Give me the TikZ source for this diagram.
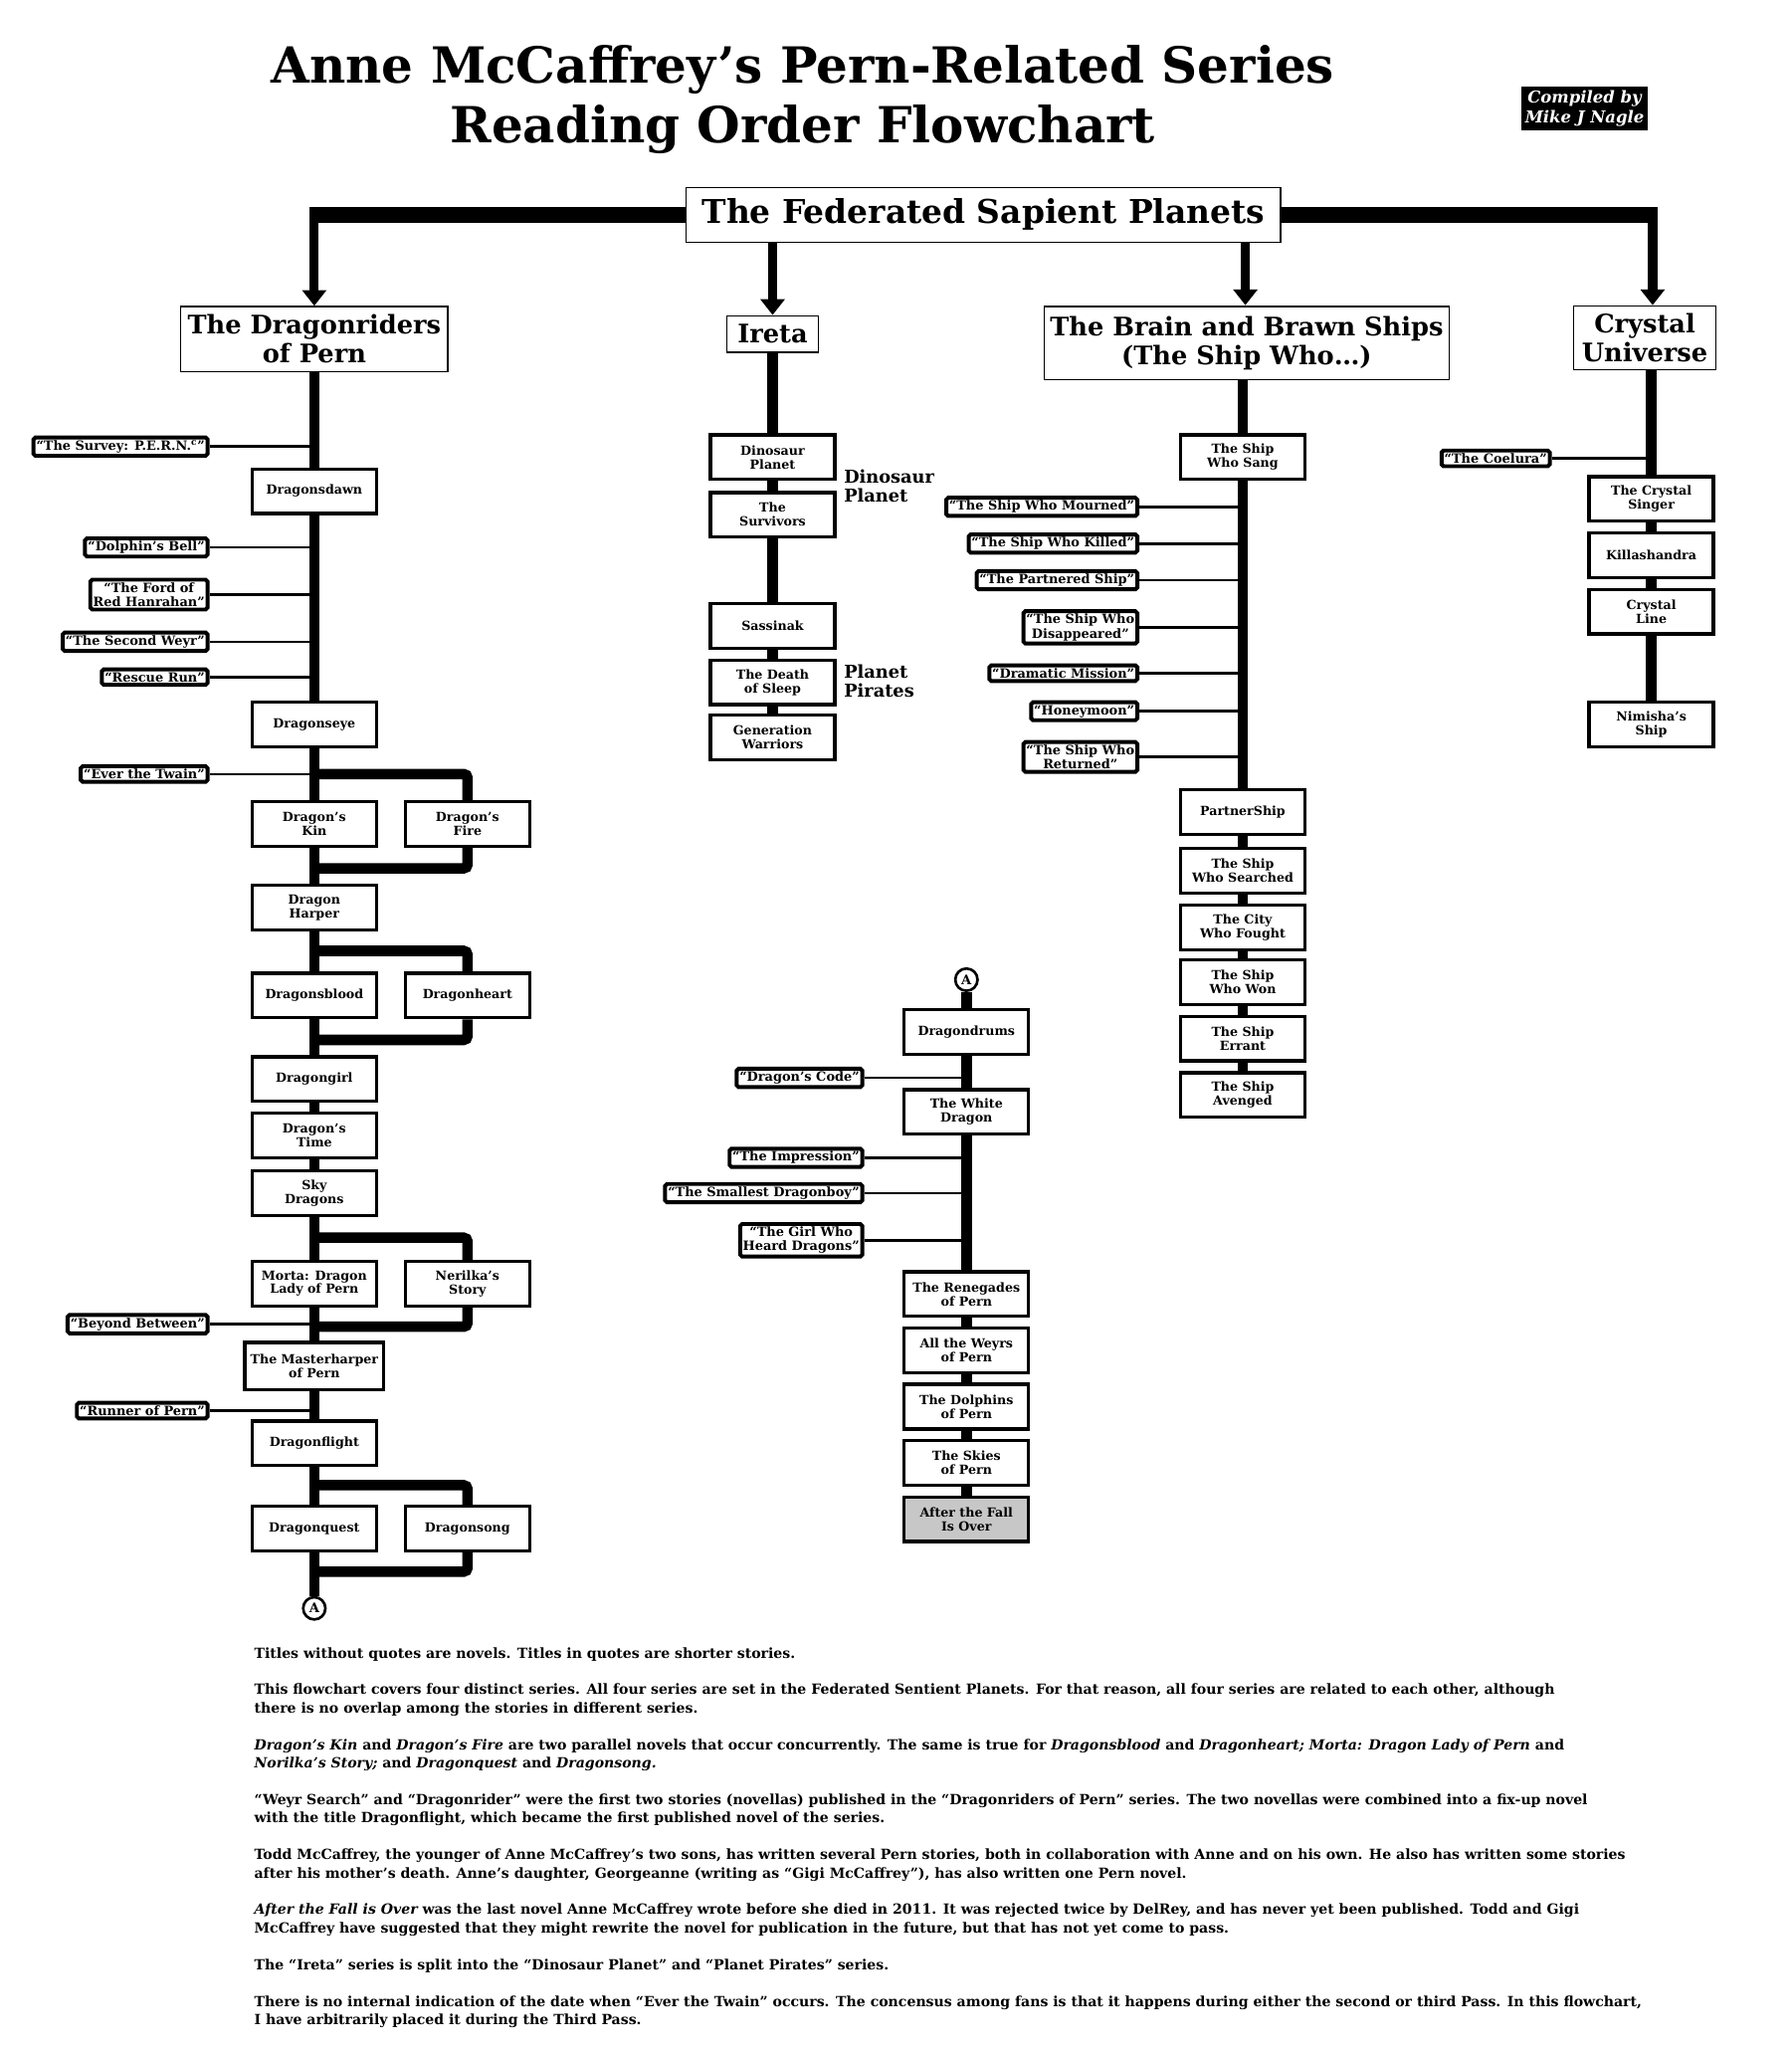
\documentclass[tikz,border=0pt]{standalone}
\usepackage{fontspec}
\setmainfont{DejaVu Serif}
\usetikzlibrary{arrows.meta,backgrounds}
\tikzset{
 book/.style={draw,line width=2.5pt,fill=white,minimum width=95pt,minimum height=34pt,inner sep=1pt,align=center,font=\fontsize{9.6}{10.6}\selectfont\bfseries},
 story/.style={draw,line width=3pt,fill=white,rounded corners=1.5pt,inner sep=2.2pt,align=center,font=\fontsize{9.8}{10.8}\selectfont\bfseries},
 head/.style={draw,line width=1pt,fill=white,align=center,inner sep=2pt,font=\fontsize{19.5}{22}\selectfont\bfseries},
 spine/.style={line width=8pt},
 thinl/.style={line width=2pt},
 arr/.style={line width=7pt,-{Triangle[width=18pt,length=12pt]}},
 para/.style={anchor=west,inner sep=0pt,font=\fontsize{10.7}{11}\selectfont\bfseries},
 lab/.style={anchor=west,align=left,font=\fontsize{13.5}{15}\selectfont\bfseries},
 circ/.style={circle,draw,line width=2pt,fill=white,inner sep=0pt,minimum size=17pt,font=\fontsize{10}{10}\selectfont\bfseries}
}
\begin{document}
\begin{tikzpicture}[x=1pt,y=-1pt]
\useasboundingbox (0,0) rectangle (1368,1566);
% titles
\node[font=\fontsize{38}{45}\selectfont\bfseries,align=center] (title) at (613,76) {Anne McCaffrey’s Pern-Related Series\\Reading Order Flowchart};
\node[fill=black,text=white,align=center,inner sep=3pt,font=\fontsize{12.5}{15}\selectfont\bfseries\itshape] (comp) at (1210,83) {Compiled by\\Mike J Nagle};
\node[head,font=\fontsize{25}{27}\selectfont\bfseries,minimum width=454pt,minimum height=42pt] (fsp) at (751,164) {The Federated Sapient Planets};
\node[head,minimum width=204pt,minimum height=50pt] (dr) at (240,259) {The Dragonriders\\of Pern};
\node[head,minimum width=70pt,minimum height=28pt] (ir) at (590,255) {Ireta};
\node[head,minimum width=309pt,minimum height=56pt] (bb) at (952,262) {The Brain and Brawn Ships\\(The Ship Who…)};
\node[head,minimum width=109pt,minimum height=49pt] (cu) at (1256,258) {Crystal\\Universe};

% Dragonriders column 1
\node[book] (ddawn) at (240,375) {Dragonsdawn};
\node[book] (deye) at (240,553) {Dragonseye};
\node[book] (dkin) at (240,629) {Dragon’s\\Kin};
\node[book] (dfire) at (357,629) {Dragon’s\\Fire};
\node[book] (dharp) at (240,693) {Dragon\\Harper};
\node[book] (dblood) at (240,760) {Dragonsblood};
\node[book] (dheart) at (357,760) {Dragonheart};
\node[book] (dgirl) at (240,824) {Dragongirl};
\node[book] (dtime) at (240,867) {Dragon’s\\Time};
\node[book] (dsky) at (240,911) {Sky\\Dragons};
\node[book] (dmorta) at (240,980) {Morta: Dragon\\Lady of Pern};
\node[book] (dner) at (357,980) {Nerilka’s\\Story};
\node[book,minimum width=106pt,minimum height=36pt] (dmh) at (240,1043) {The Masterharper\\of Pern};
\node[book] (dflight) at (240,1102) {Dragonflight};
\node[book] (dquest) at (240,1167) {Dragonquest};
\node[book] (dsong) at (357,1167) {Dragonsong};
\node[circ] (a1) at (240,1228) {A};

\node[story,anchor=east] (s1) at (160,341) {“The Survey: P.E.R.N.\textsuperscript{c}”};
\node[story,anchor=east] (s2) at (160,418) {“Dolphin’s Bell”};
\node[story,anchor=east] (s3) at (160,454) {“The Ford of\\Red Hanrahan”};
\node[story,anchor=east] (s4) at (160,490) {“The Second Weyr”};
\node[story,anchor=east] (s5) at (160,517) {“Rescue Run”};
\node[story,anchor=east] (s6) at (160,591) {“Ever the Twain”};
\node[story,anchor=east] (s7) at (160,1011) {“Beyond Between”};
\node[story,anchor=east] (s8) at (160,1077) {“Runner of Pern”};

% Ireta
\node[book] (idp) at (590,349) {Dinosaur\\Planet};
\node[book] (isurv) at (590,393) {The\\Survivors};
\node[book] (isass) at (590,478) {Sassinak};
\node[book] (ideath) at (590,521) {The Death\\of Sleep};
\node[book] (igen) at (590,563) {Generation\\Warriors};
\node[lab] (ldp) at (641,371) {Dinosaur\\Planet};
\node[lab] (lpp) at (641,520) {Planet\\Pirates};

% Brain and Brawn
\node[book] (bsang) at (949,349) {The Ship\\Who Sang};
\node[book] (bpart) at (949,620) {PartnerShip};
\node[book] (bsearch) at (949,665) {The Ship\\Who Searched};
\node[book] (bcity) at (949,708) {The City\\Who Fought};
\node[book] (bwon) at (949,750) {The Ship\\Who Won};
\node[book] (berr) at (949,793) {The Ship\\Errant};
\node[book] (bav) at (949,836) {The Ship\\Avenged};
\node[story,anchor=east] (b1) at (870,387) {“The Ship Who Mourned”};
\node[story,anchor=east] (b2) at (870,415) {“The Ship Who Killed”};
\node[story,anchor=east] (b3) at (870,443) {“The Partnered Ship”};
\node[story,anchor=east] (b4) at (870,479) {“The Ship Who\\Disappeared”};
\node[story,anchor=east] (b5) at (870,514) {“Dramatic Mission”};
\node[story,anchor=east] (b6) at (870,543) {“Honeymoon”};
\node[story,anchor=east] (b7) at (870,578) {“The Ship Who\\Returned”};

% Crystal
\node[book] (csing) at (1261,381) {The Crystal\\Singer};
\node[book] (ckill) at (1261,424) {Killashandra};
\node[book] (cline) at (1261,467) {Crystal\\Line};
\node[book] (cnim) at (1261,553) {Nimisha’s\\Ship};
\node[story,anchor=east] (c1) at (1185,350) {“The Coelura”};

% Dragonriders column 2
\node[circ] (a2) at (738,748) {A};
\node[book] (edrums) at (738,788) {Dragondrums};
\node[book] (ewhite) at (738,849) {The White\\Dragon};
\node[book] (eren) at (738,988) {The Renegades\\of Pern};
\node[book] (eall) at (738,1031) {All the Weyrs\\of Pern};
\node[book] (edol) at (738,1074) {The Dolphins\\of Pern};
\node[book] (eskies) at (738,1117) {The Skies\\of Pern};
\node[book,fill=black!22] (efall) at (738,1160) {After the Fall\\Is Over};
\node[story,anchor=east] (e1) at (660,823) {“Dragon’s Code”};
\node[story,anchor=east] (e2) at (660,884) {“The Impression”};
\node[story,anchor=east] (e3) at (660,911) {“The Smallest Dragonboy”};
\node[story,anchor=east] (e4) at (660,947) {“The Girl Who\\Heard Dragons”};

\begin{scope}[on background layer]
 \draw[line width=12pt] (fsp.west) -- (240,164) (fsp.east) -- (1262,164);
 \draw[arr] (240,158) -- (dr.north);
 \draw[arr] (ir.north |- fsp.south) -- (ir.north);
 \draw[arr] (951,185) -- (951,233);
 \draw[arr] (1262,158) -- (1262,233);
 \draw[spine] (dr.south) -- (a1.north);
 \draw[spine] (ir.south) -- (isass.north);
 \draw[spine] (bb.south -| bsang.north) -- (bpart.north) (bpart.south) -- (bav.north);
 \draw[spine] (cu.south -| csing.north) -- (cnim.north);
 \draw[spine] (a2.south) -- (efall.north);
 \draw[spine] (idp.south) -- (isurv.north) (isass.south) -- (igen.north);
 \draw[spine,rounded corners=3pt] (240,591) -| (dfire.north);
 \draw[spine,rounded corners=3pt] (dfire.south) |- (240,663);
 \draw[spine,rounded corners=3pt] (240,726) -| (dheart.north);
 \draw[spine,rounded corners=3pt] (dheart.south) |- (240,794);
 \draw[spine,rounded corners=3pt] (240,945) -| (dner.north);
 \draw[spine,rounded corners=3pt] (dner.south) |- (240,1013);
 \draw[spine,rounded corners=3pt] (240,1134) -| (dsong.north);
 \draw[spine,rounded corners=3pt] (dsong.south) |- (240,1200);
 \foreach \s in {s1,s2,s3,s4,s5,s6,s7,s8} \draw[thinl] (\s.east) -- (\s.east -| dr.south);
 \foreach \s in {b1,b2,b3,b4,b5,b6,b7} \draw[thinl] (\s.east) -- (\s.east -| bsang.south);
 \draw[thinl] (c1.east) -- (c1.east -| csing.north);
 \foreach \s in {e1,e2,e3,e4} \draw[thinl] (\s.east) -- (\s.east -| edrums.south);
\end{scope}

% notes
\node[para] (p1) at (194,1263) {Titles without quotes are novels. Titles in quotes are shorter stories.};
\node[para] (p2a) at (194,1291) {This flowchart covers four distinct series. All four series are set in the Federated Sentient Planets. For that reason, all four series are related to each other, although};
\node[para] (p2b) at (194,1305) {there is no overlap among the stories in different series.};
\node[para] (p3a) at (194,1333) {\itshape Dragon’s Kin \upshape and \itshape Dragon’s Fire \upshape are two parallel novels that occur concurrently. The same is true for \itshape Dragonsblood \upshape and \itshape Dragonheart; Morta: Dragon Lady of Pern \upshape and};
\node[para] (p3b) at (194,1347) {\itshape Norilka’s Story; \upshape and \itshape Dragonquest \upshape and \itshape Dragonsong.};
\node[para] (p4a) at (194,1375) {“Weyr Search” and “Dragonrider” were the first two stories (novellas) published in the “Dragonriders of Pern” series. The two novellas were combined into a fix-up novel};
\node[para] (p4b) at (194,1389) {with the title Dragonflight, which became the first published novel of the series.};
\node[para] (p5a) at (194,1417) {Todd McCaffrey, the younger of Anne McCaffrey’s two sons, has written several Pern stories, both in collaboration with Anne and on his own. He also has written some stories};
\node[para] (p5b) at (194,1431) {after his mother’s death. Anne’s daughter, Georgeanne (writing as “Gigi McCaffrey”), has also written one Pern novel.};
\node[para] (p6a) at (194,1459) {\itshape After the Fall is Over \upshape was the last novel Anne McCaffrey wrote before she died in 2011. It was rejected twice by DelRey, and has never yet been published. Todd and Gigi};
\node[para] (p6b) at (194,1473) {McCaffrey have suggested that they might rewrite the novel for publication in the future, but that has not yet come to pass.};
\node[para] (p7) at (194,1501) {The “Ireta” series is split into the “Dinosaur Planet” and “Planet Pirates” series.};
\node[para] (p8a) at (194,1529) {There is no internal indication of the date when “Ever the Twain” occurs. The concensus among fans is that it happens during either the second or third Pass. In this flowchart,};
\node[para] (p8b) at (194,1543) {I have arbitrarily placed it during the Third Pass.};
\end{tikzpicture}
\end{document}
